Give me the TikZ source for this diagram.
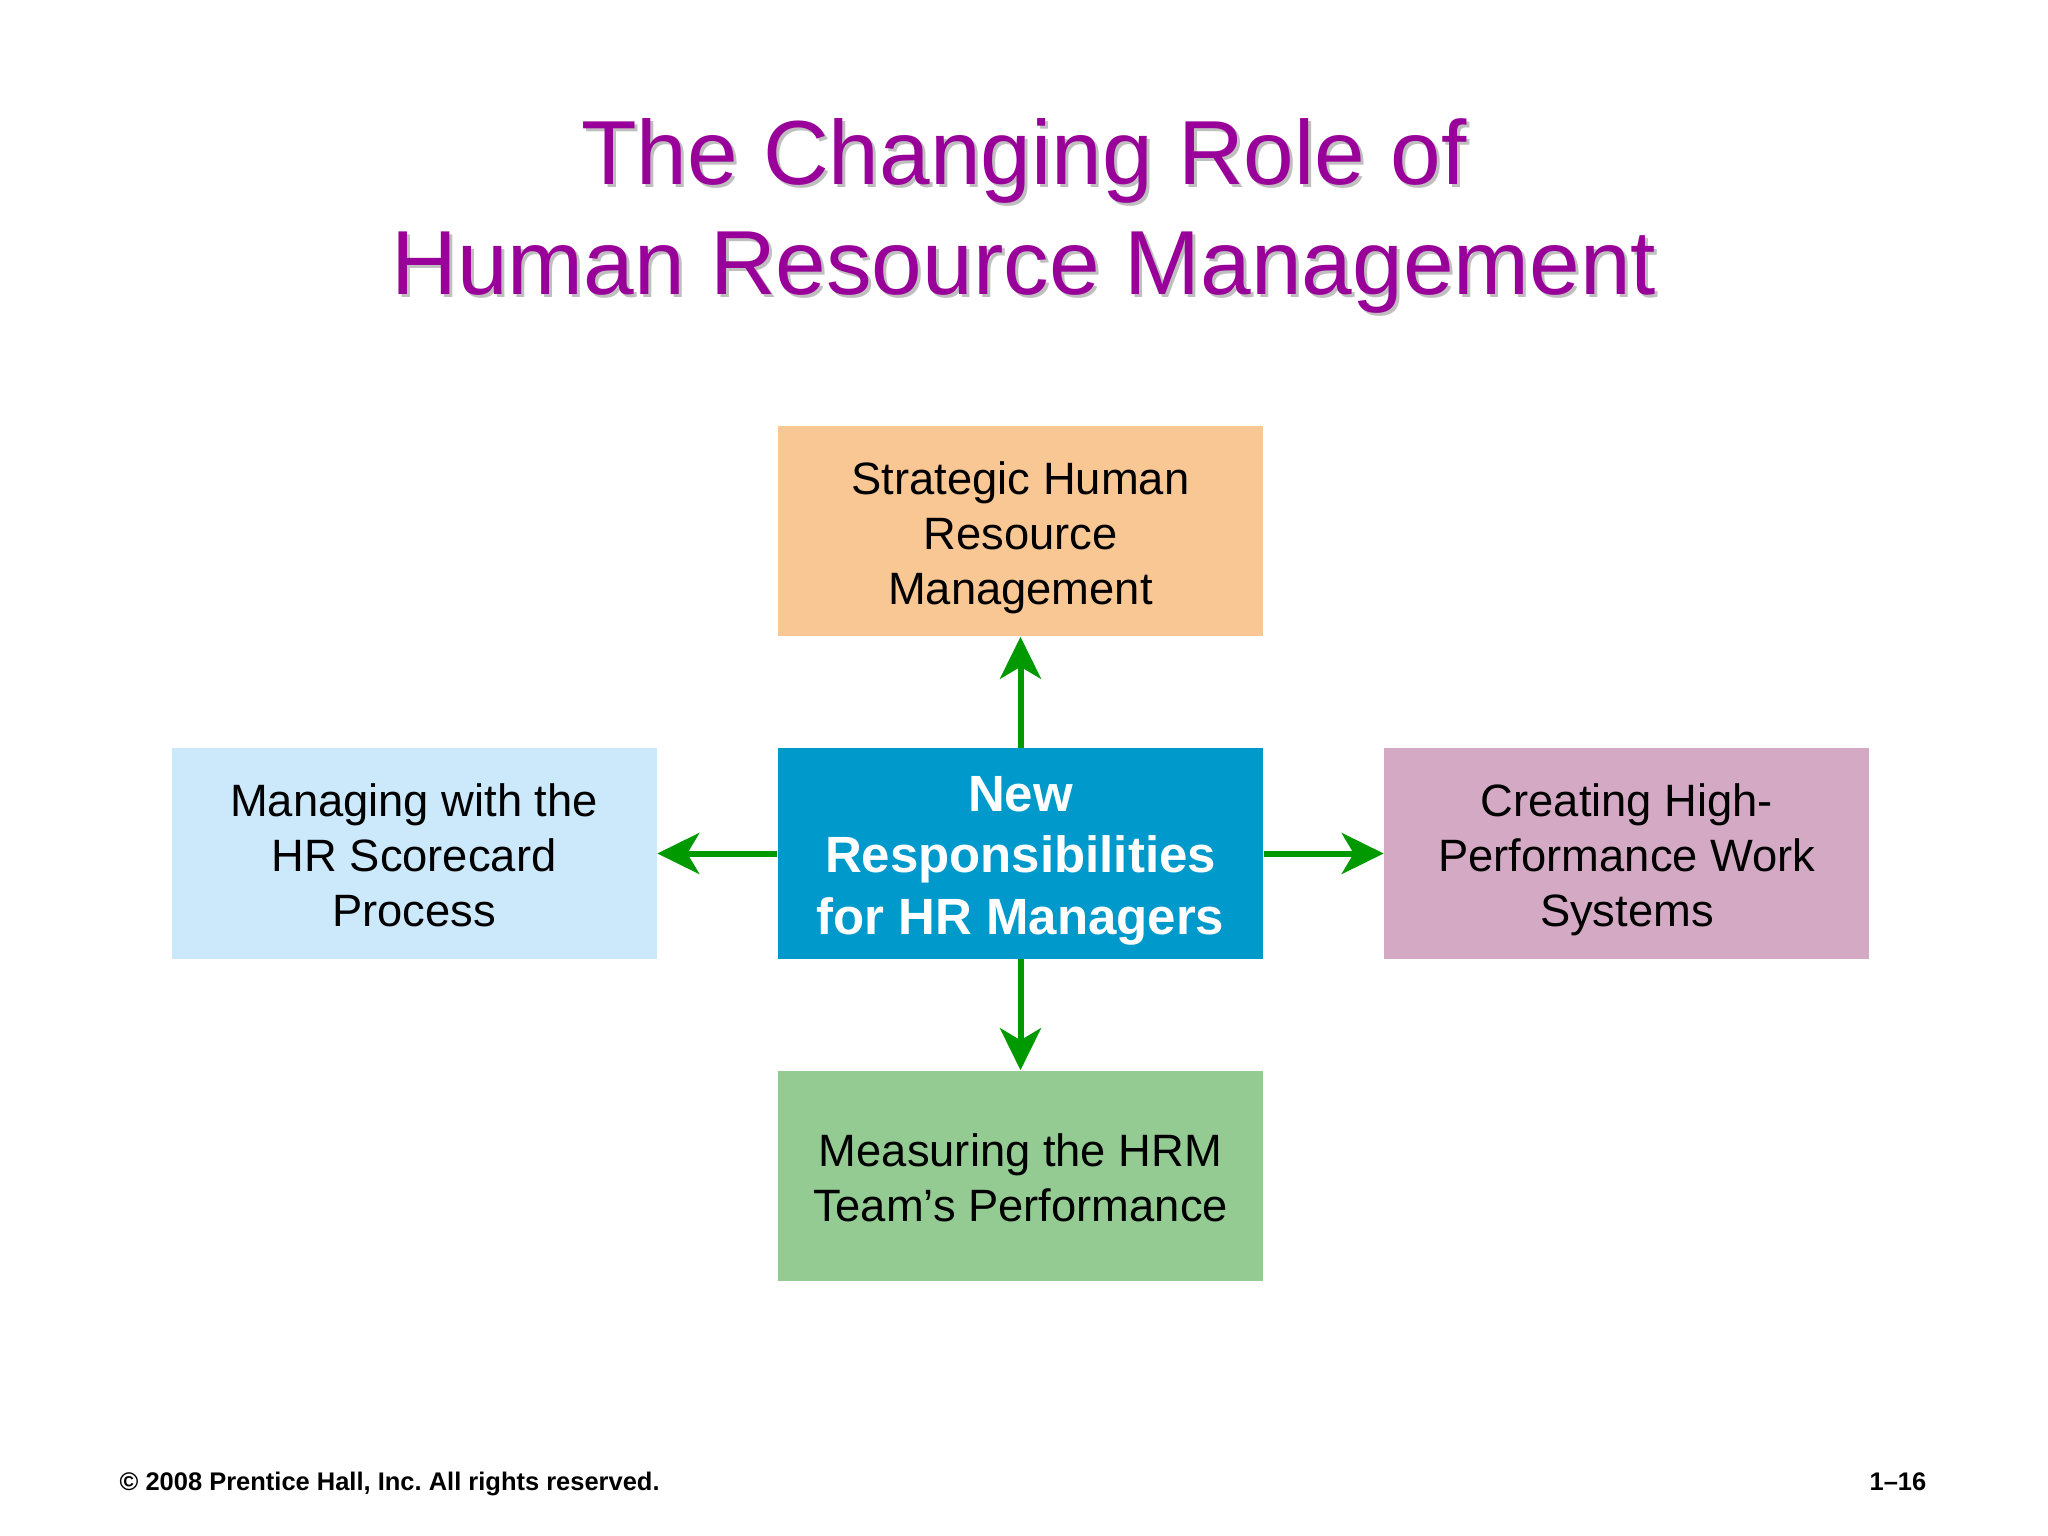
\documentclass[tikz,border=0pt]{standalone}
\usepackage{fontspec}
\setmainfont{Liberation Sans}
\usetikzlibrary{positioning,arrows.meta}

\definecolor{titlepurple}{HTML}{990099}
\definecolor{peach}{HTML}{F9C794}
\definecolor{hrblue}{HTML}{0099CC}
\definecolor{skyblue}{HTML}{CCE9FB}
\definecolor{mauve}{HTML}{D4A9C4}
\definecolor{leaf}{HTML}{93CB93}
\definecolor{arrowgreen}{HTML}{009900}

% taller first line, so the text sits a little lower in its box
\newcommand{\topgap}{\rule{0pt}{15.1pt}}
\newcommand{\topgapbig}{\rule{0pt}{16.1pt}}

\begin{document}
\begin{tikzpicture}[
    node distance=1.11cm and 1.2cm,
    box/.style={rectangle, minimum width=4.85cm, minimum height=2.1cm,
        inner sep=0pt, align=center, font=\fontsize{12.9}{15.6}\selectfont,
        execute at end node=\strut},
    link/.style={-{Stealth[length=4.2mm,width=4.1mm,inset=1.2mm]},
        line width=0.06cm, arrowgreen}
]
\useasboundingbox (0,0) rectangle (20.48,-15.36);

% title
\node[align=center, text=black!25, font=\fontsize{25.9}{31.3}\selectfont]
    (T-shadow) at (10.27,-2.19) {The Changing Role of\\Human Resource Management};
\node[align=center, text=titlepurple, font=\fontsize{25.9}{31.3}\selectfont]
    (T) at (10.24,-2.16) {The Changing Role of\\Human Resource Management};

% boxes
\node[box, fill=hrblue, text=white, font=\bfseries\fontsize{14.5}{17.5}\selectfont]
    (N) at (10.205,-8.535) {\topgapbig New\\Responsibilities\\for HR Managers};
\node[box, fill=peach, above=of N] (1) {\topgap Strategic Human\\Resource\\Management};
\node[box, fill=mauve, right=of N] (2) {\topgap Creating High-\\Performance Work\\Systems};
\node[box, fill=leaf, below=of N] (3) {\topgap Measuring the HRM\\Team’s Performance};
\node[box, fill=skyblue, left=of N] (4) {\topgap Managing with the\\HR Scorecard\\Process};

% arrows
\draw[link] (N) -- (1);
\draw[link] (N) -- (2);
\draw[link] (N) -- (3);
\draw[link] (N) -- (4);

% footer
\node[anchor=base west, font=\bfseries\fontsize{7.25}{8}\selectfont, inner sep=0pt]
    (copy) at (1.19,-14.90) {© 2008 Prentice Hall, Inc.\ All rights reserved.};
\node[anchor=base east, font=\bfseries\fontsize{7.25}{8}\selectfont, inner sep=0pt]
    (page) at (19.27,-14.90) {1–16};

\end{tikzpicture}
\end{document}
